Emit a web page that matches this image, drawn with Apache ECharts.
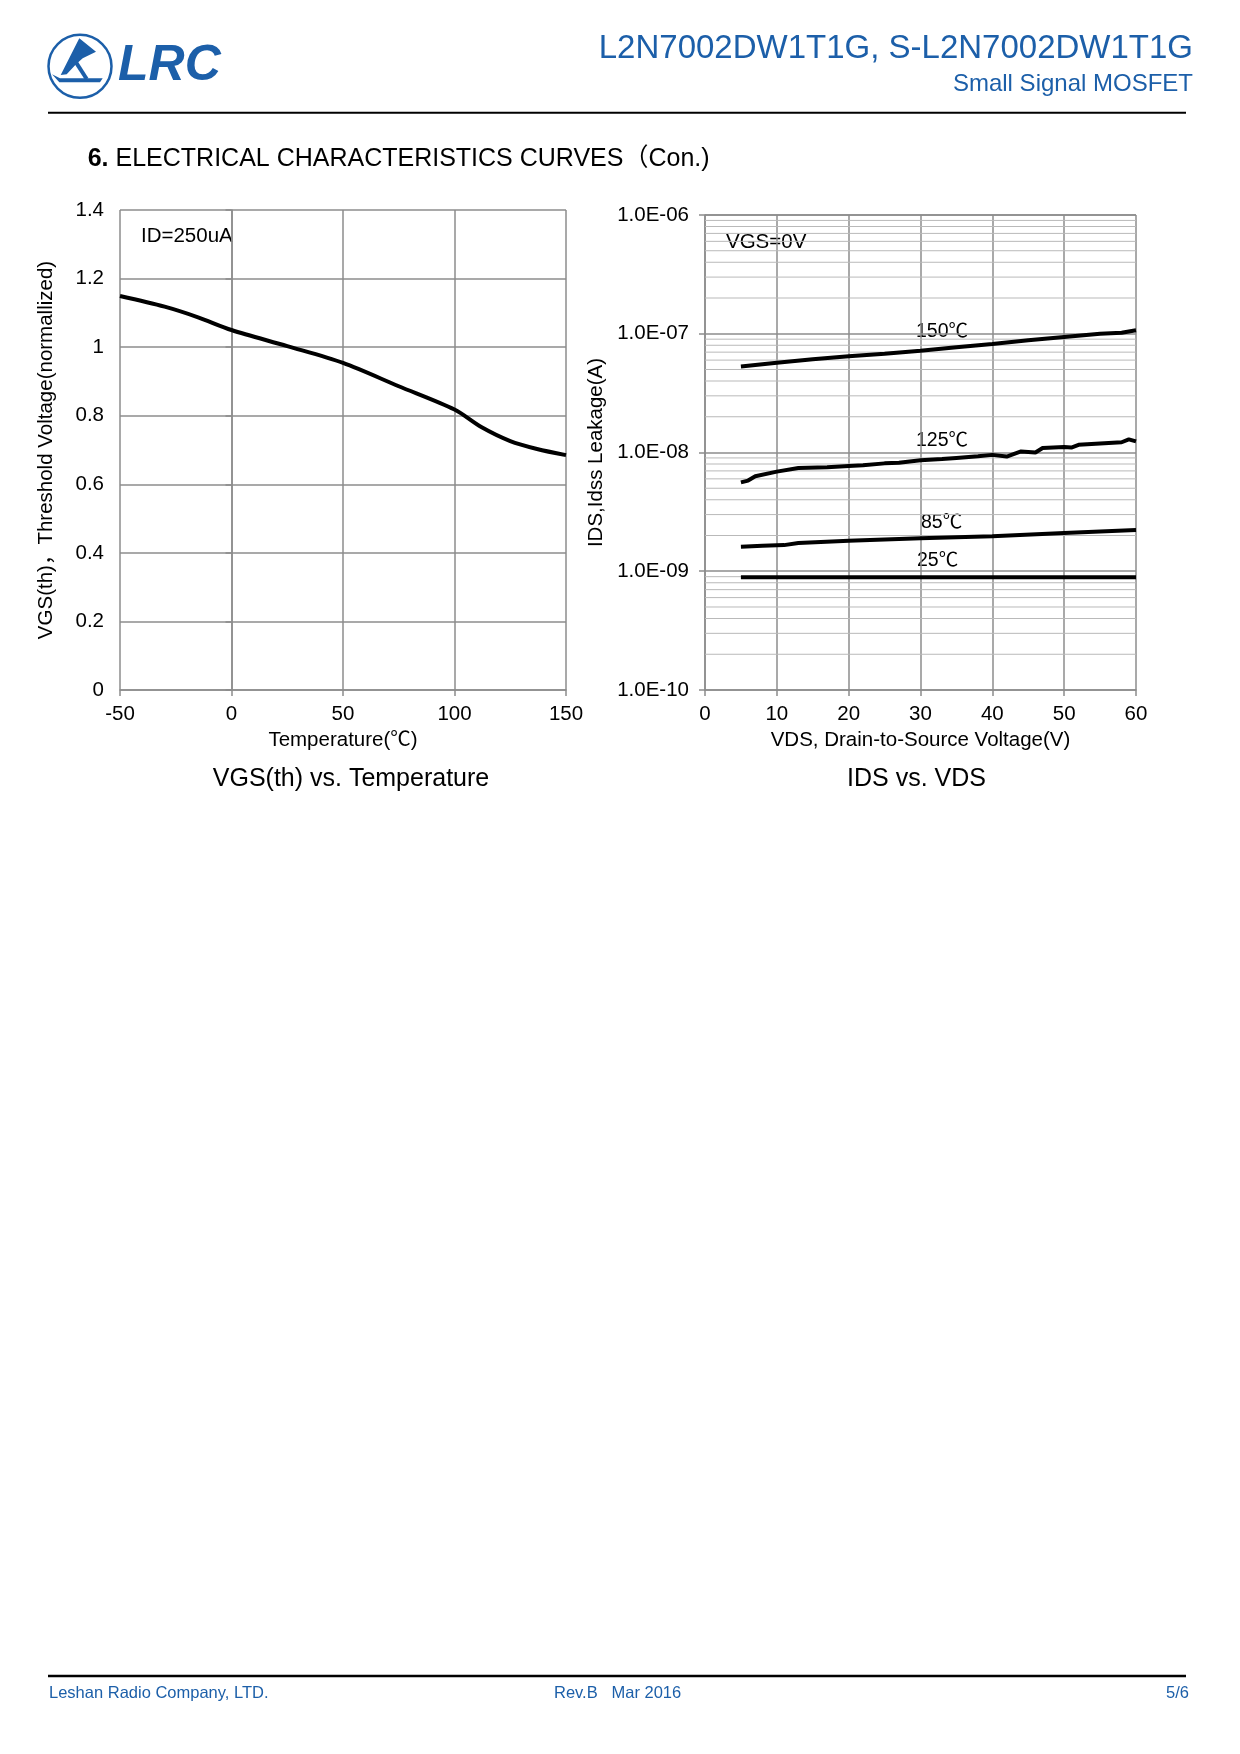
<!DOCTYPE html>
<html>
<head>
<meta charset="utf-8">
<title>L2N7002DW1T1G curves</title>
<script src="https://cdn.jsdelivr.net/npm/echarts@6/dist/echarts.min.js"></script>
<style>
  html, body { margin: 0; padding: 0; background: #fff; }
  #page { width: 1240px; height: 1754px; }
</style>
</head>
<body>
<div id="page"></div>
<script>
// VGS(th) vs. Temperature
const temps = [-50, -30, -15, 0, 25, 50, 75, 100, 112, 125, 137, 150];
const vthNorm = [1.149, 1.118, 1.087, 1.05, 1.003, 0.954, 0.886, 0.818, 0.767, 0.726, 0.703, 0.685];

// IDS vs. VDS (VGS=0V)
const vds150 = [5, 10, 15, 20, 25, 30, 35, 40, 45, 50, 55, 58, 60];
const ids150 = [5.3e-8, 5.7e-8, 6.1e-8, 6.45e-8, 6.8e-8, 7.2e-8, 7.7e-8, 8.2e-8, 8.8e-8, 9.4e-8, 1.0e-7, 1.02e-7, 1.07e-7];
const vds125 = [5, 6, 7, 10, 13, 17, 20, 22, 25, 27, 30, 33, 35, 38, 40, 42, 44, 46, 47, 50, 51, 52, 55, 58, 59, 60];
const ids125 = [5.6e-9, 5.8e-9, 6.3e-9, 6.9e-9, 7.4e-9, 7.5e-9, 7.7e-9, 7.8e-9, 8.1e-9, 8.2e-9, 8.6e-9, 8.8e-9, 9.0e-9, 9.3e-9, 9.55e-9, 9.25e-9, 1.02e-8, 1.0e-8, 1.09e-8, 1.11e-8, 1.1e-8, 1.16e-8, 1.19e-8, 1.22e-8, 1.29e-8, 1.24e-8];
const vds85 = [5, 8, 11, 13, 20, 30, 40, 50, 60];
const ids85 = [1.61e-9, 1.64e-9, 1.66e-9, 1.73e-9, 1.81e-9, 1.9e-9, 1.97e-9, 2.1e-9, 2.23e-9];
const vds25 = [5, 60];
const ids25 = [8.9e-10, 8.9e-10];

const BLUE = '#1c5fa9';
const GRID = '#8c8c8c';
const FONT = '"Liberation Sans", Arial, "Noto Sans CJK SC", sans-serif';

// minor log gridlines at 2..9 of each decade
const minorValues = [];
for (let d = -10; d <= -7; d++) {
  for (let m = 2; m <= 9; m++) minorValues.push(m * Math.pow(10, d));
}

const zip = (xs, ys) => xs.map((x, i) => [x, ys[i]]);

const expLabel = (v) => {
  const e = Math.round(Math.log10(v));
  return '1.0E' + (e < 0 ? '-' : '+') + String(Math.abs(e)).padStart(2, '0');
};

const axisCommon = {
  axisLine: { show: true, lineStyle: { color: GRID, width: 1.5 } },
  axisTick: { show: true, inside: false, length: 6, lineStyle: { color: GRID, width: 1.5 } },
  axisLabel: { color: '#000', fontSize: 20.5, fontFamily: FONT },
  splitLine: { show: true, lineStyle: { color: GRID, width: 1.5 } },
  nameTextStyle: { color: '#000', fontSize: 20.5, fontFamily: FONT },
  nameLocation: 'middle',
};

const curve = (data, extra) => Object.assign({
  type: 'line',
  data: data,
  showSymbol: false,
  symbol: 'none',
  silent: true,
  z: 5,
  lineStyle: { color: '#000', width: 4 },
}, extra);

// thin minor gridline, one per log sub-decade value
const minorLine = (v) => ({
  type: 'line',
  xAxisIndex: 1,
  yAxisIndex: 1,
  data: [[0, v], [60, v]],
  showSymbol: false,
  symbol: 'none',
  silent: true,
  z: 1,
  lineStyle: { color: '#b9b9b9', width: 1 },
});

const text = (t, x, y, size, opts) => ({
  type: 'text',
  x: x,
  y: y,
  style: Object.assign({
    text: t,
    fill: '#000',
    font: size + 'px ' + FONT,
    textAlign: 'left',
    textVerticalAlign: 'middle',
  }, opts || {}),
});

const chart = echarts.init(document.getElementById('page'), null, { renderer: 'canvas' });

const option = {
  backgroundColor: '#fff',
  animation: false,
  grid: [
    { left: 120, right: 674, top: 210, bottom: 1064 },
    { left: 705, right: 104, top: 215, bottom: 1064 },
  ],
  xAxis: [
    Object.assign({}, axisCommon, {
      gridIndex: 0,
      type: 'value',
      min: -50,
      max: 150,
      interval: 50,
      name: 'Temperature(℃)',
      nameGap: 40,
      axisLabel: Object.assign({}, axisCommon.axisLabel, { margin: 14 }),
    }),
    Object.assign({}, axisCommon, {
      gridIndex: 1,
      type: 'value',
      min: 0,
      max: 60,
      interval: 10,
      name: 'VDS, Drain-to-Source Voltage(V)',
      nameGap: 40,
      axisLabel: Object.assign({}, axisCommon.axisLabel, { margin: 14 }),
    }),
  ],
  yAxis: [
    Object.assign({}, axisCommon, {
      gridIndex: 0,
      type: 'value',
      min: 0,
      max: 1.4,
      interval: 0.2,
      name: 'VGS(th)，Threshold Voltage(normallized)',
      nameGap: 63,
      axisLabel: Object.assign({}, axisCommon.axisLabel, { margin: 16 }),
    }),
    Object.assign({}, axisCommon, {
      gridIndex: 1,
      type: 'log',
      logBase: 10,
      min: 1e-10,
      max: 1e-6,
      name: 'IDS,Idss Leakage(A)',
      nameGap: 98,
      axisLabel: Object.assign({}, axisCommon.axisLabel, { margin: 16, formatter: expLabel }),
    }),
  ],
  series: minorValues.map(minorLine).concat([
    curve(zip(temps, vthNorm), { xAxisIndex: 0, yAxisIndex: 0, smooth: 0.3 }),
    curve(zip(vds25, ids25), { xAxisIndex: 1, yAxisIndex: 1 }),
    curve(zip(vds85, ids85), { xAxisIndex: 1, yAxisIndex: 1 }),
    curve(zip(vds125, ids125), { xAxisIndex: 1, yAxisIndex: 1 }),
    curve(zip(vds150, ids150), { xAxisIndex: 1, yAxisIndex: 1 }),
  ]),
  graphic: [
    // logo
    { type: 'circle', shape: { cx: 80, cy: 66.3, r: 31.5 }, style: { fill: 'none', stroke: BLUE, lineWidth: 2.5 } },
    { type: 'polygon', shape: { points: [[79.3, 38.3], [96, 51.7], [82.7, 58.3], [76, 64.3], [66.7, 74.3], [60.7, 75]] }, style: { fill: BLUE } },
    { type: 'polygon', shape: { points: [[52, 74.3], [60, 78.3], [102.7, 78.3], [100, 82.3], [59.3, 82.3]] }, style: { fill: BLUE } },
    { type: 'line', shape: { x1: 76, y1: 62.3, x2: 86.7, y2: 79 }, style: { stroke: BLUE, lineWidth: 4 } },
    text('LRC', 118, 66.7, 50, { fill: BLUE, font: 'italic bold 50px ' + FONT }),

    // header
    text('L2N7002DW1T1G, S-L2N7002DW1T1G', 1193, 48.8, 33, { fill: BLUE, textAlign: 'right' }),
    text('Small Signal MOSFET', 1193, 84.5, 24, { fill: BLUE, textAlign: 'right' }),
    { type: 'line', shape: { x1: 48, y1: 112.7, x2: 1186, y2: 112.7 }, style: { stroke: '#000', lineWidth: 2 } },

    // section title
    {
      type: 'text',
      x: 87.7,
      y: 159,
      style: {
        text: '{b|6.} ELECTRICAL CHARACTERISTICS CURVES（Con.)',
        rich: { b: { font: 'bold 25px ' + FONT, fill: '#000' } },
        font: '25px ' + FONT,
        fill: '#000',
        textVerticalAlign: 'middle',
      },
    },

    // chart annotations
    text('ID=250uA', 141, 236.5, 20.5),
    text('VGS=0V', 726, 242, 20.5),
    text('150℃', 916, 332, 19.5),
    text('125℃', 916, 440.5, 19.5),
    text('85℃', 921, 523, 19.5),
    text('25℃', 917, 561, 19.5),

    // chart captions
    text('VGS(th) vs. Temperature', 351, 779.5, 25, { textAlign: 'center' }),
    text('IDS vs. VDS', 916.5, 779.5, 25, { textAlign: 'center' }),

    // footer
    { type: 'line', shape: { x1: 48, y1: 1676, x2: 1186, y2: 1676 }, style: { stroke: '#000', lineWidth: 2.5 } },
    text('Leshan Radio Company, LTD.', 49, 1693, 16.5, { fill: BLUE }),
    text('Rev.B   Mar 2016', 554, 1693, 16.5, { fill: BLUE }),
    text('5/6', 1189, 1693, 16.5, { fill: BLUE, textAlign: 'right' }),
  ],
};

chart.setOption(option);

window.addEventListener('resize', () => {
  chart.resize();
});
</script>
</body>
</html>
